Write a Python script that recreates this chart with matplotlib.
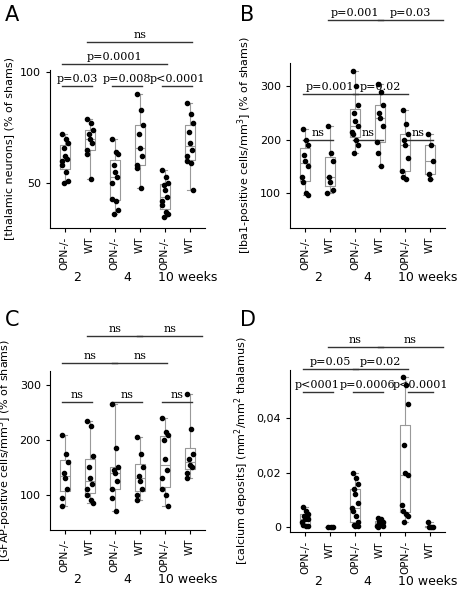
import matplotlib
matplotlib.use("Agg")
import matplotlib.pyplot as plt
import numpy as np

GROUPS = ["OPN-/-", "WT", "OPN-/-", "WT", "OPN-/-", "WT"]
WEEKS = ["2", "4", "10 weeks"]

a_data = [
    [72, 70, 68, 66, 62, 61, 60, 58, 55, 51, 50],
    [79, 77, 74, 72, 70, 68, 65, 63, 52],
    [70, 64, 63, 58, 55, 53, 50, 43, 42, 38, 36],
    [90, 83, 76, 72, 66, 62, 58, 57, 48],
    [56, 53, 50, 49, 47, 44, 42, 40, 37, 36, 35],
    [86, 81, 77, 73, 68, 65, 62, 60, 59, 47],
]
b_data = [
    [220, 200, 190, 170, 160, 150, 130, 120, 100, 95],
    [225, 175, 160, 130, 120, 105, 100],
    [330, 300, 265, 250, 235, 225, 215, 210, 200, 190, 175],
    [305, 290, 265, 250, 240, 225, 195, 175, 150],
    [255, 230, 210, 200, 190, 165, 140, 130, 125],
    [210, 190, 160, 135, 125],
]
c_data = [
    [210, 175, 160, 140, 130, 110, 95, 80],
    [235, 225, 170, 150, 130, 120, 110, 100, 90, 85],
    [265, 185, 150, 145, 140, 125, 110, 95, 70],
    [205, 175, 150, 135, 125, 110, 100, 90],
    [240, 215, 210, 200, 165, 145, 130, 110, 100, 80],
    [285, 220, 175, 165, 155, 150, 140, 130],
]
d_data = [
    [0.0075, 0.006, 0.005, 0.004, 0.003, 0.003, 0.002, 0.001, 0.0005, 0.0005],
    [0, 0, 0],
    [0.020, 0.018, 0.016, 0.014, 0.012, 0.009, 0.007, 0.006, 0.004, 0.002, 0.001, 0.0005, 0.0005],
    [0.0035, 0.003, 0.002, 0.002, 0.001, 0.0005, 0.0005, 0],
    [0.055, 0.052, 0.045, 0.030, 0.020, 0.019, 0.008, 0.006, 0.005, 0.004, 0.002],
    [0.002, 0, 0, 0],
]

# (x0, x1, y, label)
a_sig = [(1, 2, 93.5, "p=0.03"), (3, 4, 93.5, "p=0.008"), (5, 6, 93.5, "p<0.0001"),
         (1, 5, 103.5, "p=0.0001"), (2, 6, 113.5, "ns")]
b_sig = [(1, 2, 200, "ns"), (3, 4, 200, "ns"), (5, 6, 200, "ns"),
         (1, 3, 285, "p=0.001"), (3, 5, 285, "p=0.02"),
         (2, 4, 425, "p=0.001"), (4, 6.4, 425, "p=0.03")]
c_sig = [(1, 2, 270, "ns"), (3, 4, 270, "ns"), (5, 6, 270, "ns"),
         (1, 3, 340, "ns"), (3, 5, 340, "ns"),
         (2, 4, 390, "ns"), (4, 6.4, 390, "ns")]
d_sig = [(1, 2, 0.0495, "p<0001"), (3, 4, 0.0495, "p=0.0006"), (5.2, 6, 0.0495, "p<0.0001"),
         (1, 3, 0.058, "p=0.05"), (3, 5, 0.058, "p=0.02"),
         (2, 4, 0.066, "ns"), (4, 6.4, 0.066, "ns")]

panels = [
    ("A", a_data, a_sig, (30, 101), [50, 100], ["50", "100"], "[thalamic neurons] (% of shams)",
     [0.105, 0.614, 0.327, 0.268], (5, 5)),
    ("B", b_data, b_sig, (34, 345), [100, 200, 300], ["100", "200", "300"],
     "[Iba1-positive cells/mm$^3$] (% of shams)", [0.612, 0.614, 0.327, 0.28], (240, 5)),
    ("C", c_data, c_sig, (36, 327), [100, 200, 300], ["100", "200", "300"],
     "[GFAP-positive cells/mm$^3$] (% of shams)", [0.105, 0.102, 0.327, 0.27], (5, 310)),
    ("D", d_data, d_sig, (-0.0018, 0.0576), [0, 0.02, 0.04], ["0", "0,02", "0,04"],
     "[calcium deposits] (mm$^2$/mm$^2$ thalamus)", [0.612, 0.098, 0.327, 0.275], (240, 310)),
]

fig = plt.figure(figsize=(4.74, 5.9), dpi=100)
for letter, data, sig, ylim, ticks, tlabels, ylabel, rect, lpos in panels:
    ax = fig.add_axes(rect)
    pos = np.arange(1, 7)
    ax.boxplot(data, positions=pos, widths=0.4, whis=(0, 100),
               boxprops=dict(color="#999999", lw=0.8), whiskerprops=dict(color="#999999", lw=0.8),
               capprops=dict(color="#999999", lw=0.8), medianprops=dict(color="#999999", lw=0.8),
               flierprops=dict(marker=""))
    for i, vals in enumerate(data):
        offs = np.tile([-0.1, 0.05, 0.12, -0.05, 0.0, 0.1, -0.12], 3)[:len(vals)]
        ax.scatter(pos[i] + offs, vals, s=9, color="black", zorder=3)
    span = ylim[1] - ylim[0]
    for x0, x1, y, lab in sig:
        ax.plot([x0 - 0.1, x1 + 0.1], [y, y], color="#333333", lw=1, clip_on=False)
        ax.text((x0 + x1) / 2, y + span * 0.012, lab, ha="center", va="bottom",
                fontsize=8, family="DejaVu Serif", clip_on=False)
    ax.set_xlim(0.4, 6.6)
    ax.set_ylim(*ylim)
    ax.set_yticks(ticks)
    ax.set_yticklabels(tlabels, fontsize=8)
    ax.set_xticks(pos)
    ax.set_xticklabels(GROUPS, rotation=90, fontsize=7.5)
    ax.tick_params(length=3, width=0.8)
    for s in ("top", "right"):
        ax.spines[s].set_visible(False)
    ax.set_ylabel(ylabel, fontsize=8)
    for j, w in enumerate(WEEKS):
        ax.annotate(w, (1.5 + 2 * j + (0.4 if j == 2 else 0), 0), xycoords=ax.get_xaxis_transform(),
                    xytext=(0, -31), textcoords="offset points", ha="center", va="top", fontsize=9)
    fig.text(lpos[0] / 474, 1 - lpos[1] / 590, letter, fontsize=15, va="top")

fig.savefig("out.png", dpi=100)
